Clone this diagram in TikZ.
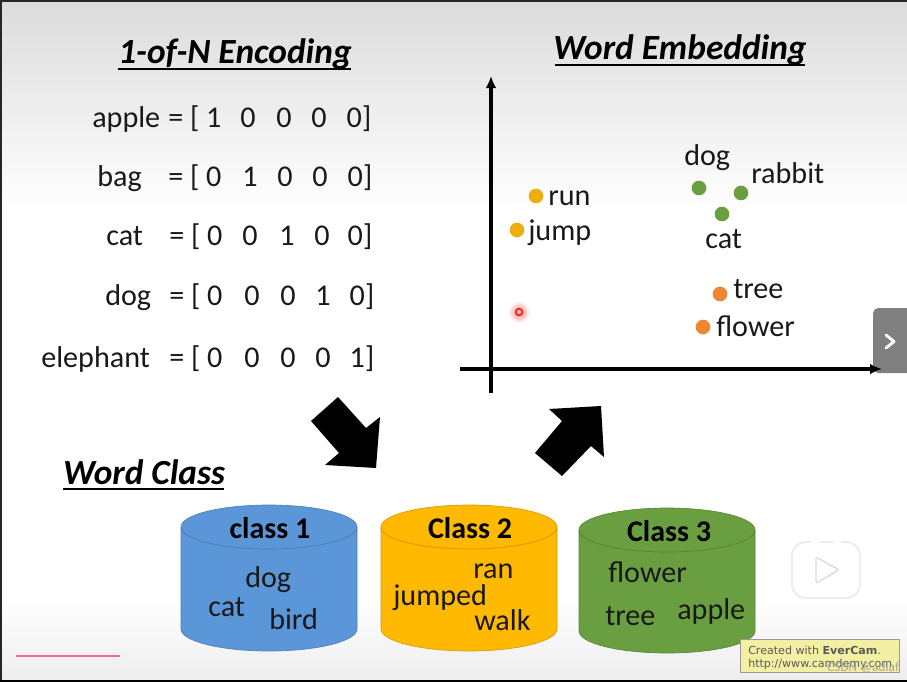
\documentclass[tikz,border=0pt]{standalone}
\usepackage{fontspec}
\setmainfont{Carlito}
\newfontfamily\evfont{DejaVu Sans}
\usetikzlibrary{arrows.meta}
\definecolor{bluec}{HTML}{5B97D8}
\definecolor{amberc}{HTML}{FFB900}
\definecolor{greenc}{HTML}{6A9F41}
\definecolor{dotY}{HTML}{EDAD0B}
\definecolor{dotG}{HTML}{6A9F41}
\definecolor{dotO}{HTML}{F08532}
\tikzset{
 body/.style={font=\fontsize{22.6}{24}\selectfont,text=black!90,inner sep=0pt,anchor=base west},
 vec/.style={font=\fontsize{22.6}{24}\selectfont,text=black!90,inner sep=0pt,anchor=base},
 head/.style={font=\fontsize{26.5}{28}\selectfont\bfseries\itshape,inner sep=0pt,anchor=base},
 uline/.style={line width=1.5pt,black},
 axis/.style={line width=2.4pt,black,-{Latex[length=9pt,width=8pt]}},
 dot/.style={circle,fill=#1,minimum size=11pt,inner sep=0pt},
 cname/.style={font=\fontsize{22.5}{24}\selectfont\bfseries,inner sep=0pt,anchor=base},
 evtext/.style={font=\fontsize{8.3}{10}\evfont,text=black!65,inner sep=0pt,anchor=base west}
}
\newcommand{\cylinder}[4]{% left, top ellipse centre y, bottom ellipse centre y, colour
 \fill[#4,draw=#4!85!black,line width=.5pt] (#1,#2) -- (#1,#3) arc[start angle=180,end angle=0,x radius=88,y radius=22] -- (#1+176,#2) arc[start angle=0,end angle=-180,x radius=88,y radius=22] -- cycle;
 \draw[#4!80!black,line width=.5pt] (#1,#2) arc[start angle=180,end angle=0,x radius=88,y radius=22];
}
\begin{document}
\begin{tikzpicture}[x=.75pt,y=-.75pt]
\useasboundingbox (0,0) rectangle (907,682);
\shade[top color=black!14,bottom color=white] (0,0) rectangle (907,210);
\fill[white] (0,210) rectangle (907,600);
\shade[top color=white,bottom color=black!7] (0,600) rectangle (907,682);
\draw[black!85,line width=1.2pt] (1,682) -- (1,.7) -- (907,.7);
\fill[black] (0,679.5) rectangle (907,682);

% side tab, under the axis tip
\fill[black!50,rounded corners=4pt] (873,308) rectangle (915,373);
\draw[white,line width=2.2pt,line cap=round,line join=round] (886,335) -- (894,341.5) -- (886,348);

% headings
\node[head] (h1) at (235,63) {1-of-N Encoding};
\draw[uline] (118,69) -- (351,69);
\node[head] (h2) at (680,59) {Word Embedding};
\draw[uline] (555,65) -- (805,65);
\node[head] (h3) at (144,484) {Word Class};
\draw[uline] (63,489) -- (224,489);

% vectors
\node[body] (w1) at (92,127) {apple};
\node[body] (w2) at (97,186) {bag};
\node[body] (w3) at (106,245) {cat};
\node[body] (w4) at (105,305) {dog};
\node[body] (w5) at (41,367) {elephant};
\node[body] (v1) at (168,127) {= [ 1};
\node[body] (v2) at (168,186) {= [ 0};
\node[body] (v3) at (169,245) {= [ 0};
\node[body] (v4) at (169,305) {= [ 0};
\node[body] (v5) at (169,367) {= [ 0};
\node[vec] (a1) at (248,127) {0};\node[vec] (b1) at (284,127) {0};\node[vec] (c1) at (319,127) {0};\node[vec] (d1) at (359,127) {0]};
\node[vec] (a2) at (250,186) {1};\node[vec] (b2) at (285,186) {0};\node[vec] (c2) at (320,186) {0};\node[vec] (d2) at (360,186) {0]};
\node[vec] (a3) at (250,245) {0};\node[vec] (b3) at (287,245) {1};\node[vec] (c3) at (322,245) {0};\node[vec] (d3) at (360,245) {0]};
\node[vec] (a4) at (252,305) {0};\node[vec] (b4) at (288,305) {0};\node[vec] (c4) at (323,305) {1};\node[vec] (d4) at (362,305) {0]};
\node[vec] (a5) at (252,367) {0};\node[vec] (b5) at (288,367) {0};\node[vec] (c5) at (323,367) {0};\node[vec] (d5) at (362,367) {1]};

% axes
\coordinate (yb) at (491,393);\coordinate (yt) at (491,76);
\coordinate (xl) at (460,369);\coordinate (xr) at (882,369);
\draw[axis] (yb) -- (yt);
\draw[axis] (xl) -- (xr);

% dots
\node[dot=dotY] (d1run) at (536,196) {};
\node[dot=dotY] (d2jump) at (517,230) {};
\node[dot=dotG] (d3dog) at (699,188) {};
\node[dot=dotG] (d4rab) at (741,193) {};
\node[dot=dotG] (d5cat) at (722,214) {};
\node[dot=dotO] (d6tree) at (720,294) {};
\node[dot=dotO] (d7fl) at (703,327) {};
\node[body] (trun) at (548,205) {run};
\node[body] (tjump) at (528,240) {jump};
\node[body] (tdog) at (684,165) {dog};
\node[body] (trab) at (751,183) {rabbit};
\node[body] (tcat) at (705,248) {cat};
\node[body] (ttree) at (733,298) {tree};
\node[body] (tfl) at (716,336) {flower};

% pointer
\shade[inner color=red!50,outer color=white] (519,312) circle[radius=11];
\draw[red!90,line width=1.3pt,fill=red!20] (519,312) circle[radius=3.3];

% block arrows
\fill[black] (311,421) -- (338,397) -- (366,428) -- (380,417) -- (376,468) -- (325,465) -- (339,453) -- cycle;
\fill[black] (535,453) -- (562,421) -- (549,409) -- (601,406) -- (604,457) -- (591,446) -- (562,476) -- cycle;

% cylinders
\cylinder{181}{527}{629}{bluec}
\cylinder{381}{527}{629}{amberc}
\cylinder{579}{530}{631}{greenc}
\node[cname] (n1) at (270,538) {class 1};
\node[cname] (n2) at (470,538) {Class 2};
\node[cname] (n3) at (669,541) {Class 3};
\node[body] (c1a) at (245,587) {dog};
\node[body] (c1b) at (208,616) {cat};
\node[body] (c1c) at (269,629) {bird};
\node[body] (c2a) at (473,578) {ran};
\node[body] (c2b) at (393,605) {jumped};
\node[body] (c2c) at (474,630) {walk};
\node[body] (c3a) at (608,582) {flower};
\node[body] (c3b) at (605,625) {tree};
\node[body] (c3c) at (677,619) {apple};

% overlays
\fill[black!7,rounded corners=11pt] (791,541) rectangle (861,599);
\fill[white,rounded corners=1pt] (810,537) -- (816,537) -- (820,544) -- (812,544) -- cycle;
\fill[white,rounded corners=1pt] (843,537) -- (837,537) -- (833,544) -- (841,544) -- cycle;
\fill[white,rounded corners=10pt] (793,543) rectangle (859,597);
\draw[black!14,line width=1pt,fill=white,line join=round,rounded corners=1.5pt] (816,557) -- (839,570) -- (816,583) -- cycle;
\fill[yellow!35!white!95!black,draw=black!40,line width=.6pt] (740.5,639.5) rectangle (899,672);
\node[evtext] (ev1) at (748,654) {Created with \textbf{EverCam}.};
\node[evtext] (ev2) at (748,667) {http://www.camdemy.com};
\node[font=\fontsize{10}{12}\selectfont,text=black!35,inner sep=0pt,anchor=base west] (cs) at (827,671) {CSDN @adiaf};
\draw[magenta!45!red!60,line width=.8pt] (16,656) -- (120,656);
\end{tikzpicture}
\end{document}
